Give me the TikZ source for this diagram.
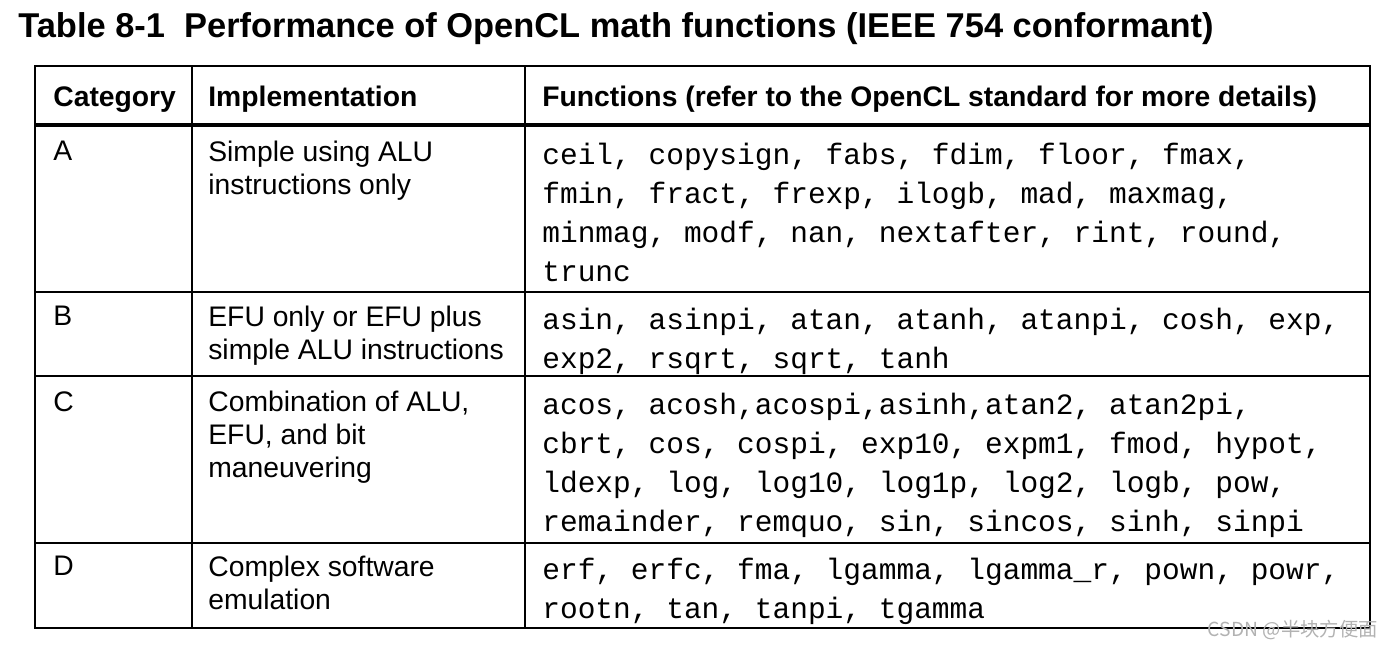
\documentclass[tikz,border=0pt]{standalone}
\usepackage{fontspec}
\setmainfont{Liberation Sans}
\setmonofont{Liberation Mono}
\newfontfamily\cjk{Noto Sans CJK SC}
\usetikzlibrary{positioning}
\newcommand{\sanstext}{\fontsize{16.1}{18.7}\selectfont}
\newcommand{\monotext}{\ttfamily\fontsize{16.8}{22.1}\selectfont}

\begin{document}
\begin{tikzpicture}[x=0.02cm, y=-0.02cm,
  cell/.style={anchor=north west, inner sep=0pt, align=left, font=\sanstext},
  fncell/.style={anchor=north west, inner sep=0pt, align=left, font=\monotext},
  rule/.style={line width=1.5pt*0.75},
  headrule/.style={line width=3pt*0.75}
]
\useasboundingbox (0,0) rectangle (1394,647);

% title
\node[anchor=north west, inner sep=0pt, font=\bfseries\fontsize{19.6}{22}\selectfont] (title) at (18,12)
  {Table 8-1\ \ Performance of OpenCL math functions (IEEE 754 conformant)};

% grid
\draw[rule] (35,66) rectangle (1370,628);
\draw[rule] (192,66) -- (192,628);
\draw[rule] (525,66) -- (525,628);
\draw[headrule] (35,125) -- (1370,125);
\foreach \y in {292,376,543} \draw[rule] (35,\y) -- (1370,\y);

% header
\node[cell, font=\sanstext\bfseries] (hcat) at (53,86) {Category};
\node[cell, font=\sanstext\bfseries] (himp) at (208,86) {Implementation};
\node[cell, font=\sanstext\bfseries] (hfun) at (542,86) {Functions (refer to the OpenCL standard for more details)};

% row A
\node[cell] (catA) at (53,141) {A};
\node[cell] (impA) at (208,141) {Simple using ALU\\instructions only};
\node[fncell] (funA) at (542,143) {ceil, copysign, fabs, fdim, floor, fmax,\\fmin, fract, frexp, ilogb, mad, maxmag,\\minmag, modf, nan, nextafter, rint, round,\\trunc};

% row B
\node[cell] (catB) at (53,306) {B};
\node[cell] (impB) at (208,306) {EFU only or EFU plus\\simple ALU instructions};
\node[fncell] (funB) at (542,308) {asin, asinpi, atan, atanh, atanpi, cosh, exp,\\exp2, rsqrt, sqrt, tanh};

% row C
\node[cell] (catC) at (53,391) {C};
\node[cell] (impC) at (208,391) {Combination of ALU,\\EFU, and bit\\maneuvering};
\node[fncell] (funC) at (542,393) {acos, acosh,acospi,asinh,atan2, atan2pi,\\cbrt, cos, cospi, exp10, expm1, fmod, hypot,\\ldexp, log, log10, log1p, log2, logb, pow,\\remainder, remquo, sin, sincos, sinh, sinpi};

% row D
\node[cell] (catD) at (53,556) {D};
\node[cell] (impD) at (208,556) {Complex software\\emulation};
\node[fncell] (funD) at (542,558) {erf, erfc, fma, lgamma, lgamma\_r, pown, powr,\\rootn, tan, tanpi, tgamma};

% watermark
\node[anchor=south east, inner sep=0pt, text=black!30, font=\cjk\fontsize{11}{12}\selectfont] (mark) at (1378,640) {CSDN @半块方便面};
\end{tikzpicture}
\end{document}
